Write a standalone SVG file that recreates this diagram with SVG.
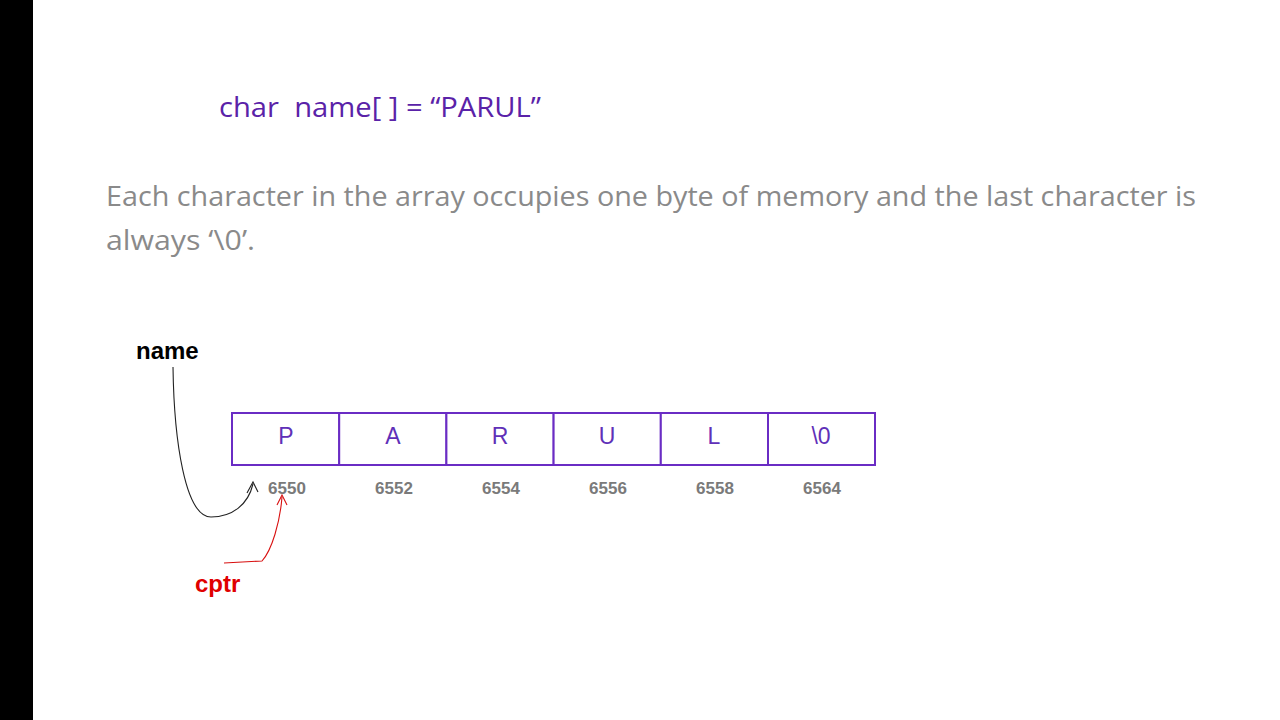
<svg xmlns="http://www.w3.org/2000/svg" width="1280" height="720" viewBox="0 0 1280 720">
<style>
.title{font-family:"Open Sans","Noto Sans",sans-serif;font-size:27px;fill:#5a22a8}
.para{font-family:"Open Sans","Noto Sans",sans-serif;font-size:27px;fill:#8a8a8a}
.cell{fill:#fff;stroke:#6a2cc4;stroke-width:2}
.ch{font-family:"Liberation Sans",Arial,sans-serif;font-size:23px;fill:#6030b8;text-anchor:middle}
.addr{font-family:"Liberation Sans",Arial,sans-serif;font-size:17px;font-weight:bold;fill:#7a7a7a;text-anchor:middle}
.lbl{font-family:"Liberation Sans",Arial,sans-serif;font-size:24px;font-weight:bold}
</style>
<rect x="0" y="0" width="1280" height="720" fill="#fff"/>
<rect x="0" y="0" width="33" height="720" fill="#000"/>
<g id="title"><text class="title" x="219" y="117" textLength="322" lengthAdjust="spacingAndGlyphs" xml:space="preserve">char  name[ ] = “PARUL”</text></g>
<g id="description">
<text class="para" x="106" y="206" textLength="1090" lengthAdjust="spacingAndGlyphs">Each character in the array occupies one byte of memory and the last character is</text>
<text class="para" x="106" y="250" textLength="149" lengthAdjust="spacingAndGlyphs">always ‘\0’.</text>
</g>
<g id="array">
<rect class="cell" x="232" y="413" width="107.2" height="52"/>
<rect class="cell" x="339.2" y="413" width="107.2" height="52"/>
<rect class="cell" x="446.4" y="413" width="107.2" height="52"/>
<rect class="cell" x="553.6" y="413" width="107.2" height="52"/>
<rect class="cell" x="660.8" y="413" width="107.2" height="52"/>
<rect class="cell" x="768" y="413" width="107" height="52"/>
<text class="ch" x="286" y="444">P</text>
<text class="ch" x="393" y="444">A</text>
<text class="ch" x="500" y="444">R</text>
<text class="ch" x="607" y="444">U</text>
<text class="ch" x="714" y="444">L</text>
<text class="ch" x="821" y="444">\0</text>
</g>
<g id="addresses">
<text class="addr" x="287" y="494">6550</text>
<text class="addr" x="394" y="494">6552</text>
<text class="addr" x="501" y="494">6554</text>
<text class="addr" x="608" y="494">6556</text>
<text class="addr" x="715" y="494">6558</text>
<text class="addr" x="822" y="494">6564</text>
</g>
<g id="name-label"><text class="lbl" x="136" y="359" fill="#000">name</text></g>
<g id="cptr-label"><text class="lbl" x="195" y="592" fill="#e00000">cptr</text></g>
<g id="connectors" fill="none">
<path d="M173,367 C174,440 185,517 211,517 C232,517 248,505 253,484" stroke="#222" stroke-width="1.1"/>
<path d="M247,493 L253,482 L258,492" stroke="#222" stroke-width="1.1"/>
<path d="M224,563 L262,561 C272,550 280,522 282,497" stroke="#d81010" stroke-width="1.1"/>
<path d="M277,505 L282,495 L287,505" stroke="#d81010" stroke-width="1.1"/>
</g>
</svg>
